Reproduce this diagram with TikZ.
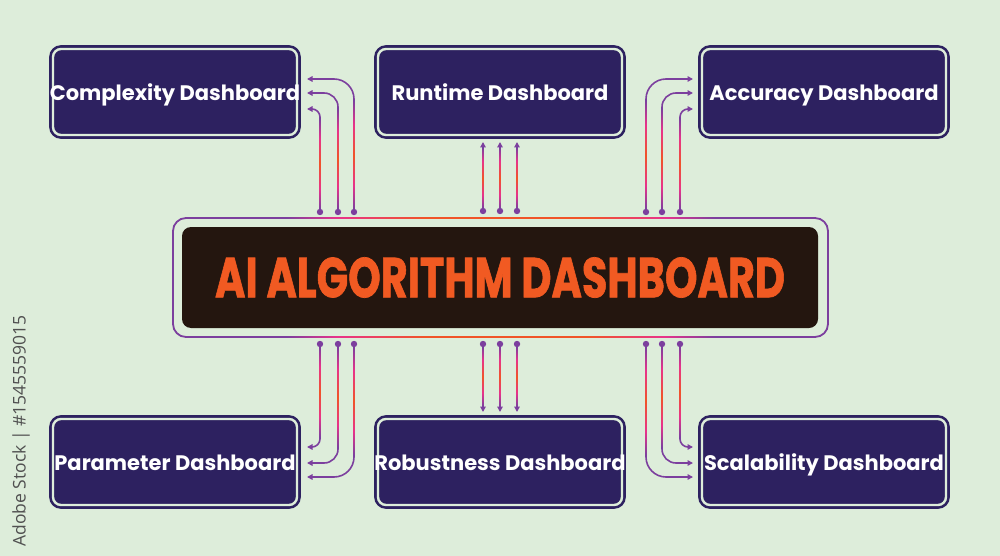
\documentclass[tikz,border=0pt]{standalone}
\usepackage{fontspec}
\setmainfont{Poppins}
\newfontfamily\wmfont{Open Sans}
\newfontfamily\titlefont{Poppins}[BoldFeatures={FakeBold=1.3}]
\usetikzlibrary{arrows.meta,calc}
\definecolor{bg}{HTML}{DDEDDA}
\definecolor{navy}{HTML}{2D2160}
\definecolor{brownbox}{HTML}{24160F}
\definecolor{titleorange}{HTML}{F15A22}
\definecolor{cpur}{HTML}{7C3F9E}
\definecolor{cpink}{HTML}{E8338A}
\definecolor{corg}{HTML}{F05428}
\definecolor{wmgray}{HTML}{505050}
\pgfdeclareverticalshading{vgrad}{100bp}{color(0bp)=(cpur); color(25bp)=(cpur); color(36bp)=(cpink); color(50bp)=(corg); color(64bp)=(cpink); color(75bp)=(cpur); color(100bp)=(cpur)}
\pgfdeclarehorizontalshading{hgrad}{100bp}{color(0bp)=(cpur); color(33bp)=(cpur); color(37bp)=(cpink); color(44bp)=(corg); color(57bp)=(corg); color(63bp)=(cpink); color(67bp)=(cpur); color(100bp)=(cpur)}
\newcommand{\lbl}[1]{\makebox[0pt][c]{#1}}
\begin{document}
\begin{tikzpicture}[x=1pt,y=-1pt,
  dbox/.style={draw=navy, line width=2.6pt, double=bg, double distance=2.4pt,
    fill=navy, rounded corners=8pt, minimum width=244pt, minimum height=86pt,
    inner sep=0pt, text height=17.7pt, text depth=0pt, text=white,
    font=\bfseries\fontsize{21}{25}\selectfont},
  conn/.style={draw=cpur, line width=1.6pt, -{Triangle[length=5.5pt,width=5.5pt]}},
  dotc/.style={fill=cpur}
]
\useasboundingbox (0,0) rectangle (1000,556);
\fill[bg] (0,0) rectangle (1000,556);

% watermark side text
\node[rotate=90, text=wmgray, font=\wmfont\fontsize{17.5}{20}\selectfont] (wm) at (21,431) {Adobe Stock | \#1545559015};

% dashboard boxes
\node[dbox] (cx) at (175,92) {\lbl{Complexity Dashboard}};
\node[dbox] (rt) at (500,92) {\lbl{Runtime Dashboard}};
\node[dbox] (ac) at (824,92) {\lbl{Accuracy Dashboard}};
\node[dbox] (pm) at (175,462) {\lbl{Parameter Dashboard}};
\node[dbox] (rb) at (500,462) {\lbl{Robustness Dashboard}};
\node[dbox] (sc) at (824,462) {\lbl{Scalability Dashboard}};

% central box
\node[draw=cpur, line width=1.8pt, rounded corners=13pt, minimum width=655pt,
  minimum height=119pt, inner sep=0pt] (frame) at (500.5,277.5) {};
\shade[shading=hgrad] (186,217.1) rectangle (815,218.9);
\shade[shading=hgrad] (186,336.1) rectangle (815,337.9);
\node[fill=brownbox, rounded corners=9pt, minimum width=636pt, minimum height=101pt,
  inner sep=0pt, text=titleorange] (main) at (500,277.5)
  {\resizebox{570pt}{40pt}{\titlefont\bfseries AI ALGORITHM DASHBOARD}};

% top-left connectors (to Complexity)
\foreach \x/\y/\r in {320/109/8, 338/93/14, 354/79/20}{
  \coordinate (tls\x) at (\x,212);
  \coordinate (tle\x) at (307,\y);
  \draw[conn, rounded corners=\r pt] (tls\x) |- (tle\x);
  \shade[shading=vgrad] (\x-0.8,\y+\r+2) rectangle (\x+0.8,209);
  \fill[dotc] (tls\x) circle (3.2pt);
}
% top-right connectors (to Accuracy)
\foreach \x/\y/\r in {680/109/8, 662/93/14, 646/79/20}{
  \coordinate (trs\x) at (\x,212);
  \coordinate (tre\x) at (693,\y);
  \draw[conn, rounded corners=\r pt] (trs\x) |- (tre\x);
  \shade[shading=vgrad] (\x-0.8,\y+\r+2) rectangle (\x+0.8,209);
  \fill[dotc] (trs\x) circle (3.2pt);
}
% top-middle connectors (to Runtime)
\foreach \x in {483,500,517}{
  \coordinate (tms\x) at (\x,211);
  \coordinate (tme\x) at (\x,142);
  \draw[conn] (tms\x) -- (tme\x);
  \shade[shading=vgrad] (\x-0.8,148) rectangle (\x+0.8,208);
  \fill[dotc] (tms\x) circle (3.2pt);
}
% bottom-left connectors (to Parameter)
\foreach \x/\y/\r in {320/447/8, 338/463/14, 354/477/20}{
  \coordinate (bls\x) at (\x,344);
  \coordinate (ble\x) at (307,\y);
  \draw[conn, rounded corners=\r pt] (bls\x) |- (ble\x);
  \shade[shading=vgrad] (\x-0.8,347) rectangle (\x+0.8,\y-\r-2);
  \fill[dotc] (bls\x) circle (3.2pt);
}
% bottom-right connectors (to Scalability)
\foreach \x/\y/\r in {680/447/8, 662/463/14, 646/477/20}{
  \coordinate (brs\x) at (\x,344);
  \coordinate (bre\x) at (693,\y);
  \draw[conn, rounded corners=\r pt] (brs\x) |- (bre\x);
  \shade[shading=vgrad] (\x-0.8,347) rectangle (\x+0.8,\y-\r-2);
  \fill[dotc] (brs\x) circle (3.2pt);
}
% bottom-middle connectors (to Robustness)
\foreach \x in {483,500,517}{
  \coordinate (bms\x) at (\x,344);
  \coordinate (bme\x) at (\x,412);
  \draw[conn] (bms\x) -- (bme\x);
  \shade[shading=vgrad] (\x-0.8,347) rectangle (\x+0.8,406);
  \fill[dotc] (bms\x) circle (3.2pt);
}
\end{tikzpicture}
\end{document}
